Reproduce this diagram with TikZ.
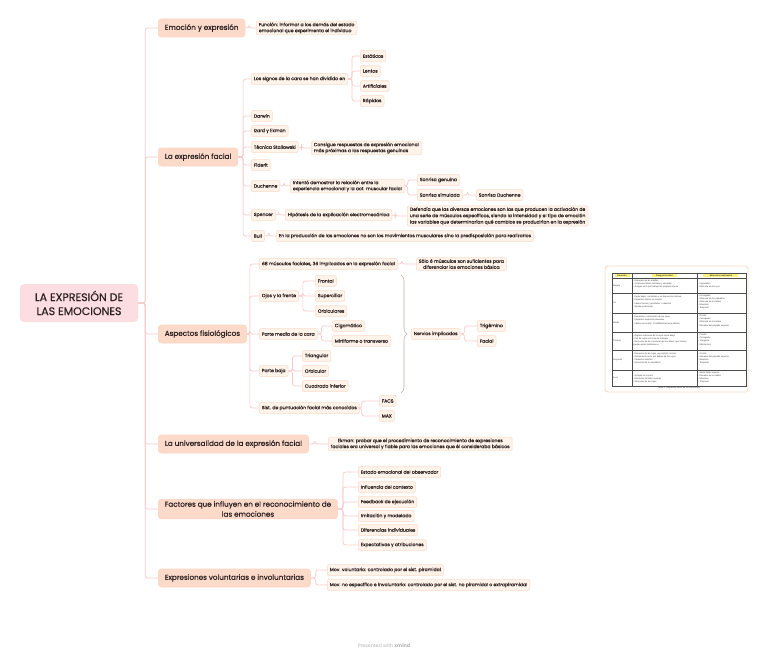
\documentclass[tikz,border=0pt]{standalone}
\usepackage{fontspec}
\setmainfont{Poppins}
\newfontfamily\medf{Poppins}[FakeBold=0.4]
\newfontfamily\subf{Poppins}[FakeBold=0.08]
\newfontfamily\tabfont{Liberation Sans}
\usetikzlibrary{calc,decorations.pathreplacing}
\definecolor{rootfill}{HTML}{FCDDE2}
\definecolor{mainfill}{HTML}{FCDACA}
\definecolor{mainborder}{HTML}{FCD5C3}
\definecolor{subfill}{HTML}{FFF3EA}
\definecolor{subborder}{HTML}{FCDACA}
\definecolor{connc}{HTML}{F7CACA}
\definecolor{txt}{HTML}{2A2020}
\definecolor{bracec}{HTML}{C4B2AA}
\definecolor{tabborder}{HTML}{FBDCC8}
\definecolor{hl}{HTML}{FFF27A}
\tikzset{
  rootn/.style={fill=rootfill, rounded corners=4pt, align=center, text=txt,
    minimum width=118pt, minimum height=38pt, inner sep=2pt,
    font=\medf\fontsize{11}{14}\selectfont},
  mainn/.style={fill=mainfill, draw=mainborder, line width=0.6pt, rounded corners=3pt,
    align=center, text=txt, anchor=west, minimum height=18pt, inner xsep=6.5pt, inner ysep=2pt,
    font=\medf\fontsize{7.2}{10}\selectfont},
  subn/.style={fill=subfill, draw=subborder, line width=0.5pt, rounded corners=2pt,
    text=txt, anchor=west, minimum height=11pt, inner xsep=2.6pt, inner ysep=1.5pt,
    font=\subf\fontsize{4.6}{6}\selectfont},
  conn/.style={draw=connc, line width=0.7pt, rounded corners=2.5pt},
  tabtxt/.style={inner sep=0pt, anchor=north west, align=left, text=black!75,
    font=\tabfont\fontsize{2.2}{3.1}\selectfont},
}
\newcommand{\lnk}[3]{\draw[conn] (#1.east) -- ++(#3,0) |- (#2.west);}
\begin{document}
\begin{tikzpicture}[x=1pt,y=-1pt]
\useasboundingbox[fill=white] (0,0) rectangle (768,658);

% root
\node[rootn] (root) at (79,303) {LA EXPRESIÓN DE\\LAS EMOCIONES};

% main branches
\node[mainn] (e1) at (158,28) {Emoción y expresión};
\node[mainn] (e2) at (158,157) {La expresión facial};
\node[mainn] (e3) at (158,334) {Aspectos fisiológicos};
\node[mainn] (e4) at (158,444) {La universalidad de la expresión facial};
\node[mainn] (e5) at (158,509) {Factores que influyen en el reconocimiento de\\las emociones};
\node[mainn] (e6) at (158,578) {Expresiones voluntarias e involuntarias};
\foreach \m in {e1,e2,e3,e4,e5,e6} { \lnk{root}{\m}{7} }

% Emocion y expresion
\node[subn, align=left] (f1) at (256,28) {Función: informar a los demás del estado\\emocional que experimenta el individuo};
\lnk{e1}{f1}{4}

% La expresion facial
\node[subn] (signos) at (251,79) {Los signos de la cara se han dividido en};
\node[subn] (darwin) at (251,116) {Darwin};
\node[subn] (izard) at (251,131) {Izard y Ekman};
\node[subn] (tecnica) at (251,147) {Técnica Stallawski};
\node[subn] (fiderit) at (251,165) {Fiderit};
\node[subn] (duch) at (251,186) {Duchenne};
\node[subn] (spencer) at (251,215) {Spencer};
\node[subn] (bull) at (251,236) {Bull};
\foreach \c in {signos,darwin,izard,tecnica,fiderit,duch,spencer,bull} { \lnk{e2}{\c}{5} }

\node[subn] (estat) at (360,56) {Estáticos};
\node[subn] (lentos) at (360,71) {Lentos};
\node[subn] (artif) at (360,86) {Artificiales};
\node[subn] (rapid) at (360,101) {Rápidos};
\foreach \c in {estat,lentos,artif,rapid} { \lnk{signos}{\c}{4} }

\node[subn, align=left] (consigue) at (311,148) {Consigue respuestas de expresión emocional\\más próximas a las respuestas genuinas};
\lnk{tecnica}{consigue}{3}

\node[subn, align=left] (intento) at (290,186) {Intentó demostrar la relación entre la\\experiencia emocional y la act. muscular facial};
\lnk{duch}{intento}{4}
\node[subn] (genuina) at (417,180) {Sonrisa genuina};
\node[subn] (simulada) at (417,195) {Sonrisa simulada};
\foreach \c in {genuina,simulada} { \lnk{intento}{\c}{3} }
\node[subn] (sduch) at (476,195) {Sonrisa Duchenne};
\lnk{simulada}{sduch}{5}

\node[subn] (hipot) at (285,215) {Hipótesis de la explicación electromecánica};
\lnk{spencer}{hipot}{3}
\node[subn, align=center, font=\subf\fontsize{4.6}{6.3}\selectfont] (defendia) at (407,216) {Defendía que las diversas emociones son las que producen la activación de\\una serie de músculos específicos, siendo la intensidad y el tipo de emoción\\las variables que determinarían qué cambios se producirían en la expresión};
\lnk{hipot}{defendia}{3}

\node[subn] (enla) at (276,236) {En la producción de las emociones no son los movimientos musculares sino la predisposición para realizarlos};
\lnk{bull}{enla}{4}

% Aspectos fisiologicos
\node[subn] (m68) at (259,264) {68 músculos faciales, 36 implicados en la expresión facial};
\node[subn] (ojos) at (259,296) {Ojos y la frente};
\node[subn] (media) at (259,334) {Parte media de la cara};
\node[subn] (baja) at (259,371) {Parte baja};
\node[subn] (sist) at (259,408) {Sist. de puntuación facial más conocidos};
\foreach \c in {m68,ojos,media,baja,sist} { \lnk{e3}{\c}{3} }

\node[subn, align=center] (solo) at (416,264) {Sólo 6 músculos son suficientes para\\diferenciar las emociones básica};
\lnk{m68}{solo}{4}

\node[subn] (frontal) at (315,281) {Frontal};
\node[subn] (superc) at (315,296) {Superciliar};
\node[subn] (orbics) at (315,311) {Orbiculares};
\foreach \c in {frontal,superc,orbics} { \lnk{ojos}{\c}{4} }

\node[subn] (cigo) at (332,326) {Cigomático};
\node[subn] (mirti) at (332,341) {Mirtiforme o transverso};
\foreach \c in {cigo,mirti} { \lnk{media}{\c}{4} }

\node[subn] (triang) at (302,356) {Triangular};
\node[subn] (orbic) at (302,371) {Orbicular};
\node[subn] (cuad) at (302,386) {Cuadrado inferior};
\foreach \c in {triang,orbic,cuad} { \lnk{baja}{\c}{4} }

\node[subn] (facs) at (379,401) {FACS};
\node[subn] (max) at (379,416) {MAX};
\foreach \c in {facs,max} { \lnk{sist}{\c}{2} }

\coordinate (brtop) at (401,275);
\coordinate (brbot) at (401,393);
\draw[draw=bracec, line width=0.6pt, decorate, decoration={brace, amplitude=6pt}] (brtop) -- (brbot);
\node[subn] (nervios) at (411,334) {Nervios implicados};
\node[subn] (trig) at (477,326) {Trigémino};
\node[subn] (facialn) at (477,341) {Facial};
\foreach \c in {trig,facialn} { \lnk{nervios}{\c}{4} }

% Table picture
\draw[fill=white, draw=tabborder, line width=0.9pt, rounded corners=3pt] (605,266) rectangle (748,392);
\fill[hl] (615,273.6) rectangle (630,277.4);
\fill[hl] (652,273.6) rectangle (677,277.4);
\fill[hl] (703,273.6) rectangle (738,277.4);
\draw[line width=0.3pt, black!70] (612,273) rectangle (746,386);
\foreach \yy in {278,293,313,332,350,370} { \draw[line width=0.3pt, black!70] (612,\yy) -- (746,\yy); }
\draw[line width=0.3pt, black!70] (632,273) -- (632,386);
\draw[line width=0.3pt, black!70] (697,273) -- (697,386);
\node[tabtxt, anchor=center] (th1) at (622,275.5) {\textbf{Emoción}};
\node[tabtxt, anchor=center] (th2) at (664.5,275.5) {\textbf{Rasgos faciales}};
\node[tabtxt, anchor=center] (th3) at (721,275.5) {\textbf{Músculos implicados}};
\node[tabtxt, anchor=west] (r1) at (613,285.5) {Alegría};
\node[tabtxt, anchor=west] (r2) at (613,303) {Ira};
\node[tabtxt, anchor=west] (r3) at (613,322.5) {Miedo};
\node[tabtxt, anchor=west] (r4) at (613,341) {Tristeza};
\node[tabtxt, anchor=west] (r5) at (613,360) {Sorpresa};
\node[tabtxt, anchor=west] (r6) at (613,378) {Asco};
\node[tabtxt] (c1) at (633,279.5) {- Elevación de las mejillas\\- Comisuras labios retraídas y elevadas\\- Arrugas en la piel debajo del párpado inferior};
\node[tabtxt] (d1) at (698,282.5) {- Cigomático\\- Orbicular de los ojos};
\node[tabtxt] (c2) at (633,296) {- Cejas bajas, contraídas y en disposición oblicua\\- Párpados inferior en tensión\\- Labios tensos y apretados, o abiertos\\- Mirada prominente};
\node[tabtxt] (d2) at (698,294.5) {- Corrugador\\- Orbicular de los párpados\\- Orbicular de los labios\\- Masetero\\- Temporal};
\node[tabtxt] (c3) at (633,316) {- Elevación y contracción de las cejas\\- Párpados superiores elevados\\- Labios en tensión. Posibilidad de boca abierta};
\node[tabtxt] (d3) at (698,315) {- Frontal\\- Corrugador\\- Orbicular de los labios\\- Elevador del párpado superior};
\node[tabtxt] (c4) at (633,334) {- Ángulos inferiores de los ojos hacia abajo\\- Piel de cejas en forma de triángulo\\- Descenso de las comisuras de los labios, que incluso\\pueden estar temblorosos};
\node[tabtxt] (d4) at (698,334) {- Frontal\\- Corrugador\\- Triangular\\- Mentoniano};
\node[tabtxt] (c5) at (633,352.5) {- Elevación de las cejas, en posición circular\\- Estiramiento de la piel debajo de las cejas\\- Párpados abiertos\\- Descenso de la mandíbula};
\node[tabtxt] (d5) at (698,352.5) {- Frontal\\- Elevador del párpado superior\\- Masetero\\- Temporal};
\node[tabtxt] (c6) at (633,375) {- Arrugas en la nariz\\- Elevación del labio superior\\- Descenso de las cejas};
\node[tabtxt] (d6) at (698,371.5) {- Nasal labial superior\\- Elevador de los labios\\- Masetero\\- Temporal};
\node[tabtxt, anchor=center] (cap) at (679,388.3) {Tabla 1. Expresión facial de las emociones};

% La universalidad
\node[subn, align=center] (ekman) at (328,444) {Ekman: probar que el procedimiento de reconocimiento de expresiones\\faciales era universal y fiable para las emociones que él consideraba básicos};
\lnk{e4}{ekman}{6}

% Factores
\node[subn] (fa1) at (358,472) {Estado emocional del observador};
\node[subn] (fa2) at (358,487) {Influencia del contexto};
\node[subn] (fa3) at (358,502) {Feedback de ejecución};
\node[subn] (fa4) at (358,516) {Imitación y modelado};
\node[subn] (fa5) at (358,530) {Diferencias individuales};
\node[subn] (fa6) at (358,545) {Expectativas y atribuciones};
\foreach \c in {fa1,fa2,fa3,fa4,fa5,fa6} { \lnk{e5}{\c}{5} }

% Expresiones voluntarias
\node[subn] (mv1) at (327,570) {Mov. voluntario: controlado por el sist. piramidal};
\node[subn] (mv2) at (327,585) {Mov. no específico e involuntario: controlado por el sist. no piramidal o extrapiramidal};
\foreach \c in {mv1,mv2} { \lnk{e6}{\c}{5} }

% watermark
\node[text=black!30, font=\fontsize{4.8}{6}\selectfont] (wm) at (384,646) {Presented with \textbf{xmind}};
\end{tikzpicture}
\end{document}
